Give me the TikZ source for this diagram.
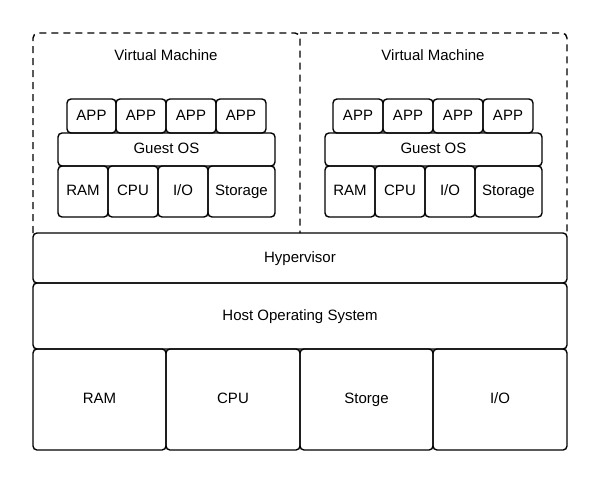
\documentclass[tikz,border=0pt]{standalone}
\usepackage{fontspec}
\setmainfont{Liberation Sans}
\begin{document}
\begin{tikzpicture}[x=1pt,y=-1pt,
 txt/.style={font=\fontsize{15}{17}\selectfont,text height=10.5pt,text depth=2.5pt,inner sep=0pt},
 box/.style={draw,line width=1.4pt,rounded corners=4pt},
 vm/.style={draw,line width=1.4pt,dashed,dash pattern=on 7pt off 5pt,rounded corners=5pt}]
\useasboundingbox (0,0) rectangle (600,483);
\newcommand\bx[6]{\draw[box] (#2,#3) rectangle (#4,#5) node[midway,txt] (#1) {#6};}
\draw[vm] (33,233) -- (33,33) -- (300,33) -- (300,233);
\draw[vm] (300,33) -- (567,33) -- (567,233);
\node[txt] (vm1) at (166,56) {Virtual Machine};
\node[txt] (vm2) at (433,56) {Virtual Machine};
\bx{a1}{67}{99}{116}{133}{APP}
\bx{a2}{116}{99}{166}{133}{APP}
\bx{a3}{166}{99}{216}{133}{APP}
\bx{a4}{216}{99}{266}{133}{APP}
\bx{g1}{58}{133}{275}{166}{Guest OS}
\bx{r1}{58}{166}{108}{217}{RAM}
\bx{c1}{108}{166}{158}{217}{CPU}
\bx{i1}{158}{166}{208}{217}{I/O}
\bx{s1}{208}{166}{275}{217}{Storage}
\bx{b1}{333}{99}{383}{133}{APP}
\bx{b2}{383}{99}{433}{133}{APP}
\bx{b3}{433}{99}{483}{133}{APP}
\bx{b4}{483}{99}{533}{133}{APP}
\bx{g2}{325}{133}{542}{166}{Guest OS}
\bx{r2}{325}{166}{375}{217}{RAM}
\bx{c2}{375}{166}{425}{217}{CPU}
\bx{i2}{425}{166}{475}{217}{I/O}
\bx{s2}{475}{166}{542}{217}{Storage}
\bx{hyp}{33}{233}{567}{283}{Hypervisor}
\bx{host}{33}{283}{567}{349}{Host Operating System}
\bx{ram}{33}{349}{166}{450}{RAM}
\bx{cpu}{166}{349}{300}{450}{CPU}
\bx{sto}{300}{349}{433}{450}{Storge}
\bx{io}{433}{349}{567}{450}{I/O}
\end{tikzpicture}
\end{document}
